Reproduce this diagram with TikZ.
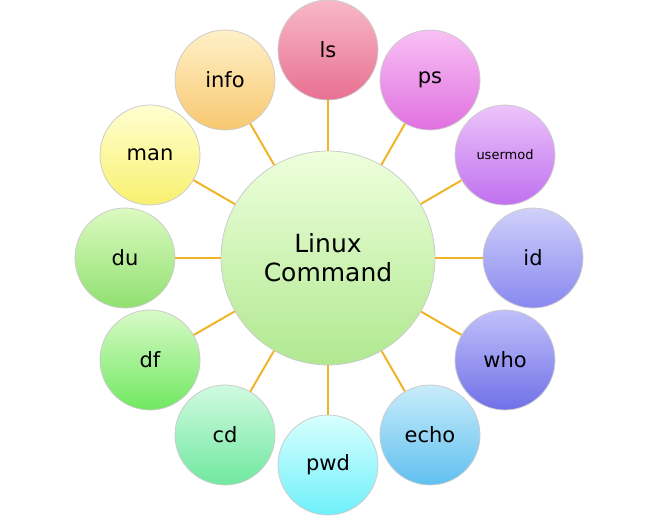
\documentclass[tikz,border=0pt]{standalone}
\usepackage{fontspec}
\setmainfont{DejaVu Sans}
\begin{document}
\begin{tikzpicture}[x=1pt,y=-1pt,
  bub/.style={circle,draw=gray!40,line width=0.8pt,minimum size=100pt,inner sep=0pt,font=\fontsize{21}{23}\selectfont},
  conn/.style={draw={rgb,255:red,240;green,180;blue,40},line width=2pt}]
\useasboundingbox (0,0) rectangle (670,521);
\definecolor{c1}{HTML}{F8B8C8}\definecolor{c1b}{HTML}{E87090}
\definecolor{c2}{HTML}{F8C0F4}\definecolor{c2b}{HTML}{E070E0}
\definecolor{c3}{HTML}{ECC4FA}\definecolor{c3b}{HTML}{C070F0}
\definecolor{c4}{HTML}{D0D0FA}\definecolor{c4b}{HTML}{8888F0}
\definecolor{c5}{HTML}{C0C0FA}\definecolor{c5b}{HTML}{7070E8}
\definecolor{c6}{HTML}{C8ECFA}\definecolor{c6b}{HTML}{60C0F0}
\definecolor{c7}{HTML}{D8FFFF}\definecolor{c7b}{HTML}{70F0FA}
\definecolor{c8}{HTML}{D0FAE0}\definecolor{c8b}{HTML}{70E8A0}
\definecolor{c9}{HTML}{D8FAC8}\definecolor{c9b}{HTML}{70E860}
\definecolor{c10}{HTML}{DCFAC0}\definecolor{c10b}{HTML}{90E070}
\definecolor{c11}{HTML}{FFFFD0}\definecolor{c11b}{HTML}{F8F070}
\definecolor{c12}{HTML}{FFF0C8}\definecolor{c12b}{HTML}{F8C870}
\definecolor{cc}{HTML}{EEFFDC}\definecolor{ccb}{HTML}{B0E890}
\node[bub,minimum size=214pt,top color=cc,bottom color=ccb,align=center,font=\fontsize{25}{29}\selectfont] (c) at (328,258) {Linux\\Command};
\foreach \n/\x/\y/\t/\k in {ls/328/50/ls/1, ps/430/80/ps/2, um/505/155/{\fontsize{13}{15}\selectfont usermod}/3, id/533/258/id/4, who/505/360/who/5, echo/430/435/echo/6, pwd/328/465/pwd/7, cd/225/435/cd/8, df/150/360/df/9, du/125/258/du/10, man/150/155/man/11, info/225/80/info/12}{
  \node[bub,top color=c\k,bottom color=c\k b] (\n) at (\x,\y) {\t};
  \draw[conn] (c) -- (\n);
}
\end{tikzpicture}
\end{document}
